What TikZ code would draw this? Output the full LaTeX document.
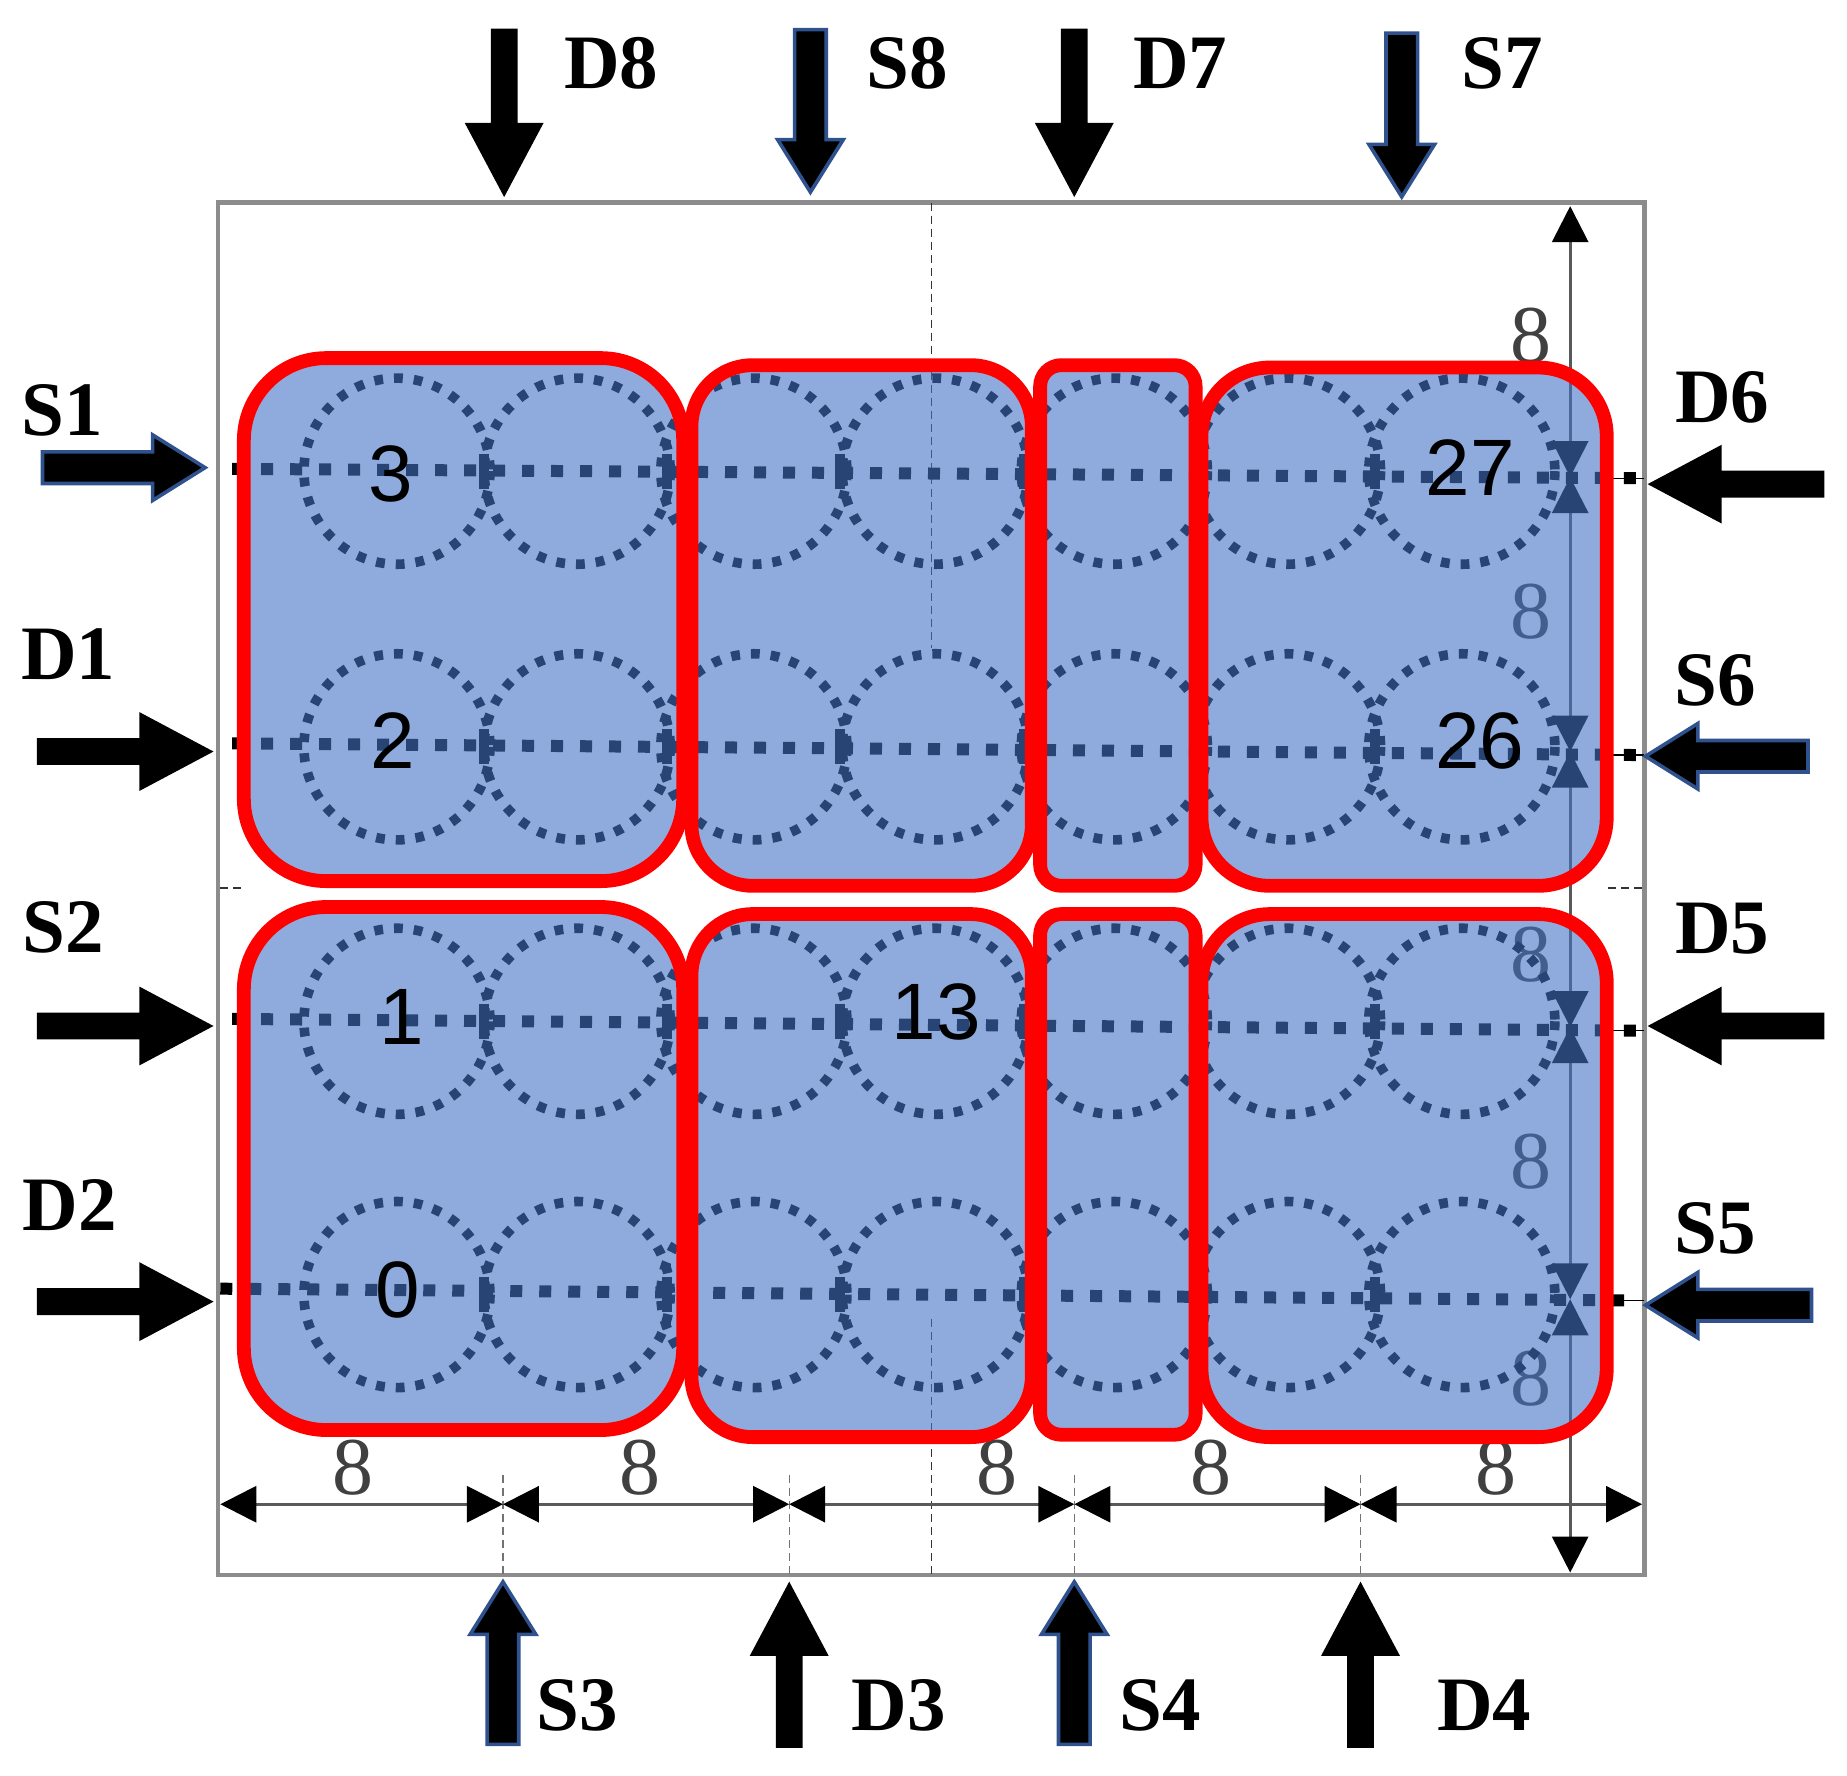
\documentclass[tikz,border=0pt]{standalone}
\usepackage{fontspec}
\setmainfont{Liberation Serif}
\newfontfamily\numfont{Liberation Sans}
\usetikzlibrary{arrows.meta,shapes.arrows}
\definecolor{overlayblue}{HTML}{4472C4}
\definecolor{outlineblue}{HTML}{2F528F}
\definecolor{framegray}{HTML}{8C8C8C}
\tikzset{
  frameline/.style={draw=framegray, line width=2.4pt},
  centerline/.style={draw=black!80, line width=0.7pt, dash pattern=on 4pt off 2.5pt},
  dimline/.style={draw=black!65, line width=1.5pt, {Triangle[length=18pt,width=18pt,color=black]}-{Triangle[length=18pt,width=18pt,color=black]}},
  sheetdots/.style={draw=black, line width=6pt, dash pattern=on 6pt off 8.5pt},
  holedots/.style={draw=black, line width=4.8pt, dash pattern=on 4.4pt off 5.5pt},
  region/.style={draw=red, line width=6.9pt, fill=overlayblue, fill opacity=0.6},
  dimtext/.style={text=black!75, font=\fontsize{41}{41}\selectfont},
  portlabel/.style={font=\fontsize{38.5}{38.5}\selectfont\bfseries, inner sep=0pt},
  celllabel/.style={font=\fontsize{40}{40}\selectfont\numfont, inner sep=0pt},
  blackarrow/.style={single arrow, anchor=tip, inner xsep=0pt, inner ysep=6.5pt, fill=black,
    single arrow head extend=13pt, single arrow tip angle=56, single arrow head indent=0pt},
  bluearrow/.style={single arrow, anchor=tip, inner xsep=0pt, inner ysep=7pt, fill=black, draw=outlineblue, line width=1.8pt,
    single arrow head extend=8.5pt, single arrow tip angle=64, single arrow head indent=0pt}
}

\begin{document}
\begin{tikzpicture}[x=0.589pt, y=-0.589pt]
  \useasboundingbox (0,0) rectangle (1568,1507.6);

  % outline and centre lines
  \draw[frameline] (185,172) rectangle (1396,1337);
  \draw[centerline] (791,172) -- (791,550);
  \draw[centerline] (791,1120) -- (791,1337);
  \draw[centerline] (187,754) -- (205,754);
  \draw[centerline] (1365,754) -- (1396,754);
  \foreach \x in {427, 670, 912, 1155} {
    \draw[centerline, draw=black!55] (\x,1252) -- (\x,1337);
  }

  % dimensions
  \foreach \n/\x in {a/187, b/427, c/670, d/912, e/1155, f/1394} {
    \coordinate (h\n) at (\x,1277);
  }
  \foreach \n/\y in {a/175, b/405, c/638, d/872, e/1103, f/1335} {
    \coordinate (v\n) at (1333,\y);
  }
  \foreach \u/\v in {a/b, b/c, c/d, d/e, e/f} {
    \draw[dimline] (h\u) -- (h\v);
    \draw[dimline] (v\u) -- (v\v);
  }
  \foreach \n/\x in {a/300, b/543, c/846, d/1028, e/1270} {
    \node[dimtext] (hdim\n) at (\x,1246) {8};
  }
  \foreach \n/\y in {a/285, b/519, c/810, d/986, e/1170} {
    \node[dimtext] (vdim\n) at (1300,\y) {8};
  }

  % holes and sheets
  \begin{scope}
    \clip[rounded corners=41pt] (207,304) rectangle (580,748) (207,770) rectangle (580,1214)
      [rounded corners=31pt] (587,310) rectangle (876,752) (587,776) rectangle (876,1220)
      [rounded corners=11pt] (883,310) rectangle (1015,752) (883,776) rectangle (1015,1218)
      [rounded corners=34pt] (1020,312) rectangle (1364,752) (1020,776) rectangle (1364,1220);
    \foreach \y in {400, 634, 867, 1099} {
      \foreach \x in {337, 490, 640, 794, 946, 1093, 1241} {
        \draw[holedots] (\x,\y) circle[radius=79];
      }
      \foreach \x in {411, 566, 713, 869, 1167} {
        \draw[draw=black, line width=5pt] (\x,{\y-15}) -- (\x,{\y+15});
      }
    }
  \end{scope}
  \draw[sheetdots] (197,398) -- (1392,406);
  \draw[sheetdots] (197,631) -- (1392,641);
  \draw[sheetdots] (197,865) -- (1392,875);
  \draw[sheetdots] (187,1094) -- (1382,1104);
  \foreach \y in {406, 641, 875, 1104} {
    \draw[black, line width=0.6pt] (1360,\y) -- (1396,\y);
  }

  % regions
  \foreach \xa/\ya/\xb/\yb/\rad in {
    207/304/580/748/70, 587/310/876/752/52, 883/310/1015/752/18, 1020/312/1364/752/58,
    207/770/580/1214/70, 587/776/876/1220/52, 883/776/1015/1218/18, 1020/776/1364/1220/58} {
    \draw[region, rounded corners=\rad*0.589pt] (\xa,\ya) rectangle (\xb,\yb);
  }

  % cell numbers
  \foreach \t/\x/\y in {3/332/402, 2/333/629, 1/341/863, 0/338/1095, 13/795/859, 27/1248/397, 26/1256/629} {
    \node[celllabel] (cell\t) at (\x,\y) {\t};
  }

  % ports
  \foreach \n/\x/\y/\len/\ang in {
    D8/428/168/143/-90, D7/912/168/143/-90,
    D1/182/638/150/0, S2/182/871/150/0, D2/182/1105/150/0,
    D6/1398/411/150/180, D5/1398/871/150/180,
    D3/670/1342/141/90, D4/1155/1342/141/90} {
    \node[blackarrow, rotate=\ang, minimum height=\len*0.589pt] (arr\n) at (\x,\y) {};
  }
  \foreach \n/\x/\y/\len/\ang in {
    S8/688/166/138/-90, S7/1190/170/139/-90,
    S1/177/397/138/0,
    S6/1394/642/138/180, S5/1394/1108/141/180,
    S3/427/1340/138/90, S4/912/1340/138/90} {
    \node[bluearrow, rotate=\ang, minimum height=\len*0.589pt] (arr\n) at (\x,\y) {};
  }
  \foreach \n/\x/\y in {
    D8/519/54, S8/770/54, D7/1002/54, S7/1275/54,
    S1/53/348, D1/58/555, S2/54/787, D2/59/1023,
    D6/1462/337, S6/1456/578, D5/1462/788, S5/1456/1043,
    S3/490/1448, D3/763/1448, S4/985/1448, D4/1260/1448} {
    \node[portlabel] (lab\n) at (\x,\y) {\n};
  }
\end{tikzpicture}
\end{document}
